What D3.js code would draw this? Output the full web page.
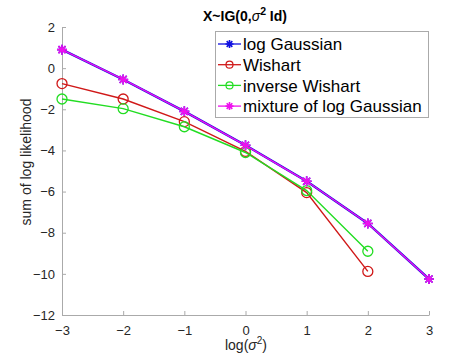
<!DOCTYPE html>
<html>
<head>
<meta charset="utf-8">
<script src="https://cdn.jsdelivr.net/npm/d3@7"></script>
<style>
  body { margin: 0; background: #fff; }
  text { font-family: "Liberation Sans", Arial, sans-serif; }
</style>
</head>
<body>
<div id="container"></div>
<script>
// data
const xs = [-3, -2, -1, 0, 1, 2, 3];
const logGaussian = [0.9, -0.55, -2.1, -3.75, -5.5, -7.55, -10.25];
const wishart = [-0.75, -1.5, -2.6, -4.05, -6.05, -9.88];
const invWishart = [-1.5, -1.97, -2.85, -4.1, -5.95, -8.9];
const mixture = [0.9, -0.55, -2.1, -3.75, -5.5, -7.55, -10.25];
const xTicks = [-3, -2, -1, 0, 1, 2, 3];
const yTicks = [2, 0, -2, -4, -6, -8, -10, -12];

const series = [
  { name: 'log Gaussian', vals: logGaussian, color: '#1010e0', marker: 'star', width: 2.4 },
  { name: 'Wishart', vals: wishart, color: '#d01818', marker: 'circle', width: 1.4 },
  { name: 'inverse Wishart', vals: invWishart, color: '#22dd22', marker: 'circle', width: 1.4 },
  { name: 'mixture of log Gaussian', vals: mixture, color: '#ee10ee', marker: 'star', width: 1.4 }
];

const width = 474, height = 355;
const x = d3.scaleLinear().domain([-3, 3]).range([62, 429]);
const y = d3.scaleLinear().domain([-12, 2]).range([315, 27]);

const svg = d3.create("svg").attr("width", width).attr("height", height);

// axes (box off, MATLAB style inward ticks)
const axisColor = '#aaaaaa';
const gx = svg.append("g").attr("transform", `translate(0,${y(-12)})`)
  .call(d3.axisBottom(x).tickValues(xTicks).tickSizeInner(-4).tickSizeOuter(0).tickPadding(8).tickFormat(d3.format("d")));
const gy = svg.append("g").attr("transform", `translate(${x(-3)},0)`)
  .call(d3.axisLeft(y).tickValues(yTicks).tickSizeInner(-4).tickSizeOuter(0).tickPadding(7).tickFormat(d3.format("d")));
[gx, gy].forEach(g => {
  g.select(".domain").attr("stroke", axisColor);
  g.selectAll(".tick line").attr("stroke", axisColor);
  g.selectAll(".tick text").attr("fill", "#262626").style("font-size", "13px");
});
gx.selectAll(".tick text").attr("dy", "0.9em");

const line = d3.line().x((d, i) => x(xs[i])).y(d => y(d));

function star(g, cx, cy, r, color) {
  const p = [];
  for (let k = 0; k < 4; k++) {
    const a = k * Math.PI / 4;
    p.push(`M${cx - r * Math.cos(a)},${cy - r * Math.sin(a)}L${cx + r * Math.cos(a)},${cy + r * Math.sin(a)}`);
  }
  g.append("path").attr("d", p.join("")).attr("stroke", color).attr("stroke-width", 1.6).attr("fill", "none");
}
function marker(g, s, cx, cy) {
  if (s.marker === 'star') star(g, cx, cy, 5, s.color);
  else g.append("circle").attr("cx", cx).attr("cy", cy).attr("r", 5)
    .attr("fill", "none").attr("stroke", s.color).attr("stroke-width", 1.3);
}

const plot = svg.append("g");
series.forEach(s => {
  plot.append("path").datum(s.vals).attr("d", line)
    .attr("fill", "none").attr("stroke", s.color).attr("stroke-width", s.width);
  s.vals.forEach((v, i) => marker(plot, s, x(xs[i]), y(v)));
});

// title
const title = svg.append("text").attr("x", 245).attr("y", 21).attr("text-anchor", "middle")
  .style("font-size", "14px").style("font-weight", "bold").attr("fill", "#000");
title.append("tspan").text("X~IG(0,");
title.append("tspan").text("σ").style("font-style", "italic").style("font-weight", "normal");
title.append("tspan").text("2").attr("dy", -6).style("font-size", "10.5px");
title.append("tspan").text(" Id)").attr("dy", 6);

// x label
const xl = svg.append("text").attr("x", 246).attr("y", 350).attr("text-anchor", "middle")
  .style("font-size", "14px").attr("fill", "#262626");
xl.append("tspan").text("log(");
xl.append("tspan").text("σ").style("font-style", "italic");
xl.append("tspan").text("2").attr("dy", -6).style("font-size", "10px");
xl.append("tspan").text(")").attr("dy", 6);

// y label
svg.append("text").attr("transform", `translate(31,162) rotate(-90)`).attr("text-anchor", "middle")
  .style("font-size", "14px").attr("fill", "#262626").text("sum of log likelihood");

// legend
const lg = svg.append("g");
lg.append("rect").attr("x", 215.5).attr("y", 31.5).attr("width", 213).attr("height", 86)
  .attr("fill", "#fff").attr("stroke", "#aaaaaa").attr("stroke-width", 1);
series.forEach((s, i) => {
  const cy = 44 + i * 20.7;
  lg.append("line").attr("x1", 218).attr("x2", 241).attr("y1", cy).attr("y2", cy)
    .attr("stroke", s.color).attr("stroke-width", 1.3);
  if (s.marker === 'star') star(lg, 229.5, cy, 4, s.color);
  else lg.append("circle").attr("cx", 229.5).attr("cy", cy).attr("r", 3.5)
    .attr("fill", "none").attr("stroke", s.color).attr("stroke-width", 1.2);
  lg.append("text").attr("x", 243).attr("y", cy).attr("dy", "0.36em")
    .style("font-size", "17px").attr("fill", "#000").text(s.name);
});

container.append(svg.node());
</script>
</body>
</html>
